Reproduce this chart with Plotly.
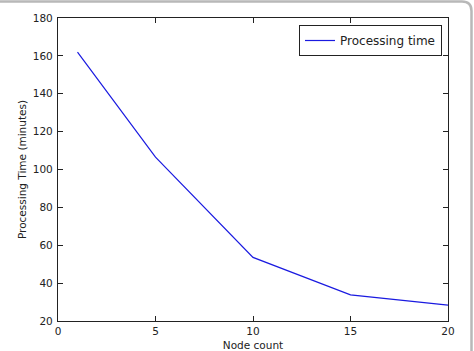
import plotly.graph_objects as go

node_count = [1, 5, 10, 15, 20]
processing_time = [162, 106.5, 53.6, 33.8, 28.4]
series_name = "Processing time"

W, H = 474, 351
L, R, T, B = 58, 448, 18, 321  # plot area in pixels

def px(x):
    return (x - L) / (R - L)

def py(y):
    return (B - y) / (B - T)

fig = go.Figure()
fig.add_trace(go.Scatter(
    x=node_count, y=processing_time, mode="lines", name=series_name,
    line=dict(color="#1a1ae0", width=1.2),
))

axis_common = dict(
    showline=True, linecolor="#222222", linewidth=1.2, mirror="ticks",
    ticks="inside", ticklen=5, tickcolor="#222222", tickwidth=1,
    showgrid=False, zeroline=False, automargin=False,
    tickfont=dict(family="DejaVu Sans", size=10.5, color="#222222"),
)

fig.update_layout(
    width=W, height=H,
    margin=dict(l=L, r=W - R, t=T, b=H - B, pad=0, autoexpand=False),
    paper_bgcolor="white", plot_bgcolor="white",
    font=dict(family="DejaVu Sans", color="#222222"),
    xaxis=dict(range=[0, 20], tickvals=[0, 5, 10, 15, 20],
               ticklabelstandoff=0,
               title=dict(text="Node count", font=dict(size=10.5), standoff=5),
               **axis_common),
    yaxis=dict(range=[20, 180], tickvals=[20, 40, 60, 80, 100, 120, 140, 160, 180],
               ticklabelstandoff=2,
               title=dict(text="Processing Time (minutes)", font=dict(size=10.5), standoff=4),
               **axis_common),
    showlegend=True,
    legend=dict(x=px(442), y=py(25), xanchor="right", yanchor="top",
                bordercolor="#222222", borderwidth=1, bgcolor="white",
                font=dict(family="DejaVu Sans", size=12, color="#222222")),
    shapes=[
        dict(type="path", xref="paper", yref="paper",
             path=(f"M {px(-5)} {py(1.5)} L {px(462)} {py(1.5)} "
                   f"Q {px(471.5)} {py(1.5)} {px(471.5)} {py(11)} L {px(471.5)} {py(352)}"),
             line=dict(color="#b8b8b8", width=2.5), layer="above"),
    ],
)

fig.write_html("out.html")
